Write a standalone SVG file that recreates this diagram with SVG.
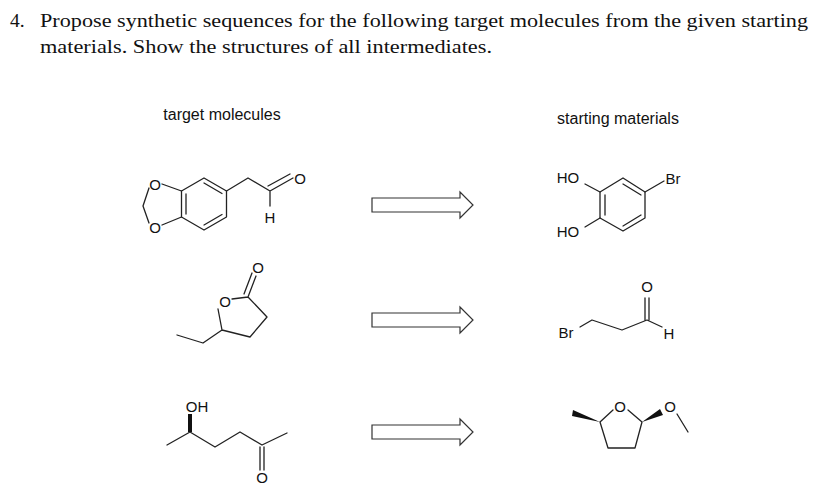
<svg xmlns="http://www.w3.org/2000/svg" width="835" height="498" viewBox="0 0 835 498">
<style>
.t{font-family:"Liberation Serif",serif;font-size:19.5px;fill:#111}
.l{font-family:"Liberation Sans",Arial,sans-serif;font-size:16px;fill:#111}
.a{font-family:"Liberation Sans",Arial,sans-serif;font-size:15px;fill:#111;text-anchor:middle}
.b{stroke:#222;stroke-width:1.3;fill:none;stroke-linecap:round;stroke-linejoin:round}
.ar{stroke:#333;stroke-width:1.2;fill:#fff}
</style>
<rect width="835" height="498" fill="#fff"/>
<text class="t" x="10" y="27">4.</text>
<text class="t" x="40" y="27" textLength="768" lengthAdjust="spacingAndGlyphs">Propose synthetic sequences for the following target molecules from the given starting</text>
<text class="t" x="40" y="53" textLength="452" lengthAdjust="spacingAndGlyphs">materials. Show the structures of all intermediates.</text>
<text class="l" x="222" y="120" text-anchor="middle">target molecules</text>
<text class="l" x="618" y="124" text-anchor="middle">starting materials</text>

<g id="target1">
<path class="b" d="M204,178 L226.5,191 L226.5,217 L204,230 L181.5,217 L181.5,191 Z M186,194 L186,214 M204,225 L222,214.5 M222,193.5 L204,183"/>
<path class="b" d="M181.5,191 L162,184 M181.5,217 L162,225 M149,188 L143,206 L149,223"/>
<text class="a" x="155" y="190">O</text>
<text class="a" x="155" y="233">O</text>
<path class="b" d="M226.5,191 L248,178 L270,191 L270,206 M270,191 L293,178 M268,186 L290,174"/>
<text class="a" x="300" y="184">O</text>
<text class="a" x="270" y="223">H</text>
</g>

<g id="start1">
<path class="b" d="M623,178 L645,192 L645,218 L623,231 L600,218 L600,192 Z M605,195 L605,215 M623,226 L641,215 M641,195 L623,184"/>
<path class="b" d="M600,192 L585,184 M600,218 L585,227 M645,192 L664,181"/>
<text class="a" x="568" y="183">HO</text>
<text class="a" x="568" y="237">HO</text>
<text class="a" x="673" y="184">Br</text>
</g>

<g id="target2">
<path class="b" d="M232,299 L248,297 L267,317 L250,337 L222,330 L218,309 M222,330 L203,343 L177,335 M248,297 L256,276 M244,294 L252,273"/>
<text class="a" x="225" y="307">O</text>
<text class="a" x="258" y="273">O</text>
</g>

<g id="start2">
<path class="b" d="M580,327 L592,320 L622,330 L647,320 L662,327 M645,320 L645,298 M649,320 L649,298"/>
<text class="a" x="566" y="338">Br</text>
<text class="a" x="647" y="292">O</text>
<text class="a" x="669" y="339">H</text>
</g>

<g id="target3">
<path class="b" d="M167,445 L190,432 L215,447 L240,432 L262,445 L287,433 M260,447 L260,470 M264,447 L264,470"/>
<path d="M188,432 L192,432 L192,414 L188,414 Z" fill="#111"/>
<text class="a" x="197" y="412">OH</text>
<text class="a" x="262" y="483">O</text>
</g>

<g id="start3">
<path class="b" d="M613,410 L600,422 L608,448 L635,448 L642,422 L628,410 M677,414 L688,432"/>
<path d="M600,422 L573,410 L572,416 Z M642,422 L660,409 L663,415 Z" fill="#111"/>
<text class="a" x="620" y="412">O</text>
<text class="a" x="670" y="412">O</text>
</g>

<g id="connectors">
<path class="ar" d="M372,198 L460,198 L460,192 L473,205 L460,218 L460,212 L372,212 Z"/>
<path class="ar" d="M372,313 L460,313 L460,307 L473,320 L460,333 L460,327 L372,327 Z"/>
<path class="ar" d="M372,425 L460,425 L460,419 L473,432 L460,445 L460,439 L372,439 Z"/>
</g>
</svg>
